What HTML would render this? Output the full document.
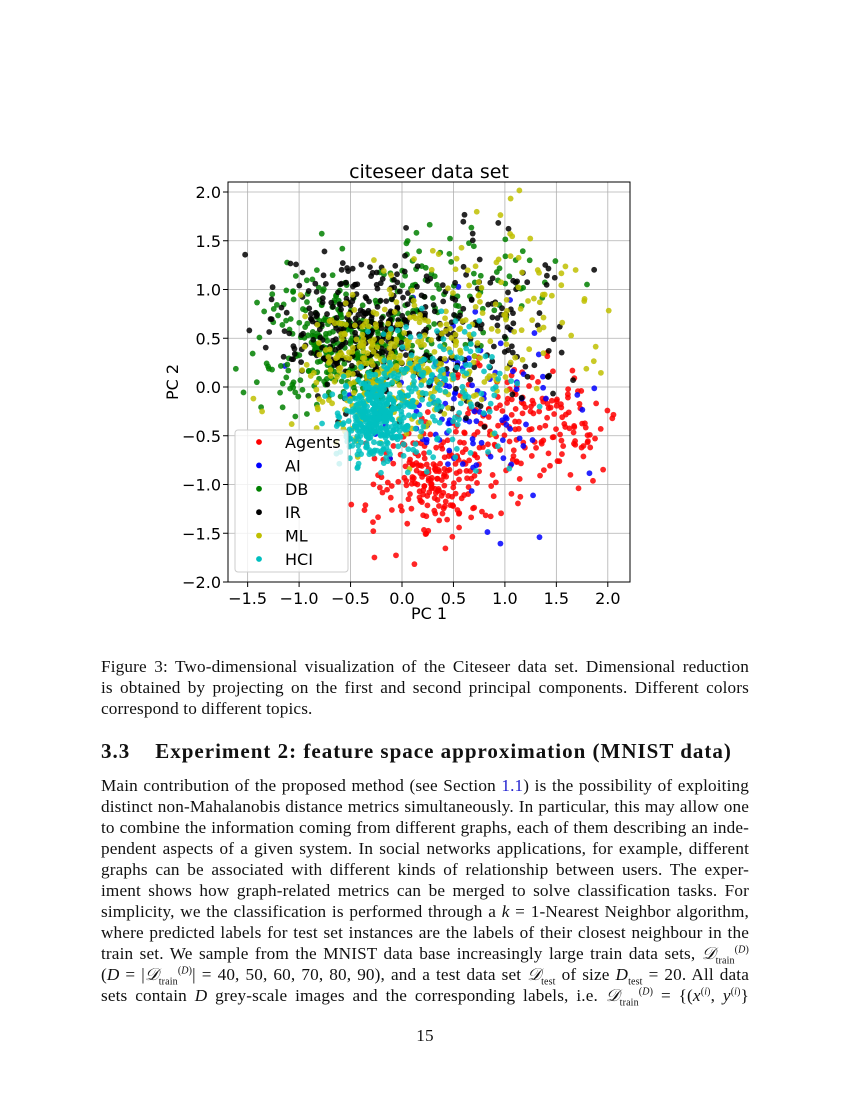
<!DOCTYPE html>
<html><head><meta charset="utf-8">
<style>
body{margin:0;background:#fff;}
#pg{position:relative;width:850px;height:1100px;overflow:hidden;background:#fff;}
.t{position:absolute;left:101px;width:648px;font-family:"Liberation Serif",serif;font-size:17.2px;letter-spacing:0.15px;color:#111;white-space:nowrap;}
.j{text-align:justify;text-align-last:justify;}
.h{font-weight:bold;font-size:21px;letter-spacing:1px;}
i{font-style:italic}
sub,sup{font-size:10px;line-height:0}
.b{color:#2020d0}
svg text{font-family:"DejaVu Sans","Liberation Sans",sans-serif;}
</style></head><body><div id="pg">
<svg id="s" width="850" height="640" style="position:absolute;left:0;top:0">
<text x="429" y="178" font-size="19" text-anchor="middle">citeseer data set</text>
<g id="grid" stroke="#b0b0b0" stroke-width="0.8"></g>
<g id="pts"></g>
<rect x="228" y="182" width="402" height="400" fill="none" stroke="#000" stroke-width="1"/>
<g id="ticks" font-size="16"></g>
<text x="429" y="619" font-size="16" text-anchor="middle">PC 1</text>
<text x="178" y="382" font-size="16" text-anchor="middle" transform="rotate(-90 178 382)">PC 2</text>
<rect x="235" y="430" width="113" height="142" rx="3" fill="#fff" fill-opacity="0.8" stroke="#ccc"/>
<g id="leg" font-size="16"></g>
</svg>
<div class="t j" style="top:657px">Figure 3: Two-dimensional visualization of the Citeseer data set. Dimensional reduction</div>
<div class="t j" style="top:678px">is obtained by projecting on the first and second principal components. Different colors</div>
<div class="t" style="top:699px">correspond to different topics.</div>
<div class="t h" style="top:739px">3.3&nbsp;&nbsp;&nbsp; Experiment 2: feature space approximation (MNIST data)</div>
<div class="t j" style="top:776px">Main contribution of the proposed method (see Section <span class="b">1.1</span>) is the possibility of exploiting</div>
<div class="t j" style="top:797px">distinct non-Mahalanobis distance metrics simultaneously. In particular, this may allow one</div>
<div class="t j" style="top:818px">to combine the information coming from different graphs, each of them describing an inde-</div>
<div class="t j" style="top:839px">pendent aspects of a given system. In social networks applications, for example, different</div>
<div class="t j" style="top:860px">graphs can be associated with different kinds of relationship between users. The exper-</div>
<div class="t j" style="top:881px">iment shows how graph-related metrics can be merged to solve classification tasks. For</div>
<div class="t j" style="top:902px">simplicity, we the classification is performed through a <i>k</i> = 1-Nearest Neighbor algorithm,</div>
<div class="t j" style="top:923px">where predicted labels for test set instances are the labels of their closest neighbour in the</div>
<div class="t j" style="top:944px">train set. We sample from the MNIST data base increasingly large train data sets, <i>𝒟</i><sub>train</sub><sup>(<i>D</i>)</sup></div>
<div class="t j" style="top:965px">(<i>D</i> = |<i>𝒟</i><sub>train</sub><sup>(<i>D</i>)</sup>| = 40, 50, 60, 70, 80, 90), and a test data set <i>𝒟</i><sub>test</sub> of size <i>D</i><sub>test</sub> = 20. All data</div>
<div class="t j" style="top:986px">sets contain <i>D</i> grey-scale images and the corresponding labels, i.e. <i>𝒟</i><sub>train</sub><sup>(<i>D</i>)</sup> = {(<i>x</i><sup>(<i>i</i>)</sup>, <i>y</i><sup>(<i>i</i>)</sup>}</div>
<div class="t" style="top:1026px;text-align:center;width:648px">15</div>
<script>
var NS="http://www.w3.org/2000/svg";
function X(v){return 402+v*102.9} function Y(v){return 387-v*97.5}
function el(p,n,a,t){var e=document.createElementNS(NS,n);for(var k in a)e.setAttribute(k,a[k]);if(t!==undefined)e.textContent=t;document.getElementById(p).appendChild(e);}
var xt=[-1.5,-1,-0.5,0,0.5,1,1.5,2],yt=[-2,-1.5,-1,-0.5,0,0.5,1,1.5,2];
function lab(v){return (v<0?"\u2212":"")+Math.abs(v).toFixed(1)}
xt.forEach(function(v){el("grid","line",{x1:X(v),x2:X(v),y1:182,y2:582});el("ticks","line",{x1:X(v),x2:X(v),y1:582,y2:587,stroke:"#000"});el("ticks","text",{x:X(v),y:604,"text-anchor":"middle"},lab(v));});
yt.forEach(function(v){el("grid","line",{x1:228,x2:630,y1:Y(v),y2:Y(v)});el("ticks","line",{x1:223,x2:228,y1:Y(v),y2:Y(v),stroke:"#000"});el("ticks","text",{x:221,y:Y(v)+6,"text-anchor":"end"},lab(v));});
var seed=12345;function r(){seed=(seed*16807)%2147483647;return seed/2147483647}
function g(){return Math.sqrt(-2*Math.log(r()+1e-9))*Math.cos(6.2832*r())}
var C={A:"#ff0000",AI:"#0000ff",DB:"#008000",IR:"#000000",ML:"#bfbf00",HCI:"#00bfbf"};
function cl(col,n,cx,cy,sx,sy){for(var i=0;i<n;i++){var x=cx+g()*sx,y=cy+g()*sy;if(x<-1.65||x>2.1||y<-1.95||y>2.05)continue;el("pts","circle",{cx:X(x),cy:Y(y),r:2.9,fill:col,"fill-opacity":0.85});}}
cl(C.A,200,0.3,-0.95,0.3,0.28);cl(C.A,180,1.2,-0.4,0.4,0.3);
cl(C.AI,110,0.6,-0.1,0.5,0.45);
cl(C.DB,330,-0.6,0.45,0.38,0.33);cl(C.DB,90,0.5,1.0,0.45,0.4);
cl(C.IR,300,-0.35,0.6,0.42,0.33);cl(C.IR,120,0.8,0.7,0.4,0.45);
cl(C.ML,300,-0.2,0.2,0.42,0.33);cl(C.ML,120,0.9,0.7,0.45,0.45);
cl(C.HCI,380,-0.25,-0.3,0.18,0.2);cl(C.HCI,150,0.4,0.0,0.4,0.35);
[["Agents",C.A],["AI",C.AI],["DB",C.DB],["IR",C.IR],["ML",C.ML],["HCI",C.HCI]].forEach(function(e,i){var y=442+i*23.4;el("leg","circle",{cx:259,cy:y,r:2.9,fill:e[1]});el("leg","text",{x:285,y:y+6},e[0]);});
</script>
</div></body></html>
